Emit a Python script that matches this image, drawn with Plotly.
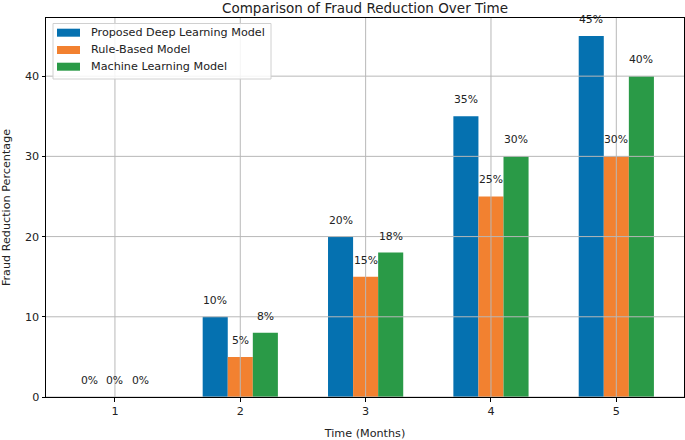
import plotly.graph_objects as go

months = [1, 2, 3, 4, 5]
series_names = ["Proposed Deep Learning Model", "Rule-Based Model", "Machine Learning Model"]
deep_learning = [0, 10, 20, 35, 45]
rule_based = [0, 5, 15, 25, 30]
machine_learning = [0, 8, 18, 30, 40]
y_ticks = [0, 10, 20, 30, 40]

series_values = [deep_learning, rule_based, machine_learning]
colors = ["#0571b0", "#f28130", "#2a9a47"]
bar_w = 0.2
FONT = "DejaVu Sans"
FS = 11.2

fig = go.Figure()
annotations = []
for i, (name, vals, col) in enumerate(zip(series_names, series_values, colors)):
    off = (i - 1) * bar_w
    fig.add_trace(go.Bar(
        x=months, y=vals, name=name, width=bar_w, offset=off - bar_w / 2,
        marker=dict(color=col, line=dict(width=0)), showlegend=False,
    ))
    for m, v in zip(months, vals):
        annotations.append(dict(
            x=m + off, y=v + 1, xref="x", yref="y", text=f"{v}%", showarrow=False,
            xanchor="center", yanchor="bottom", font=dict(family=FONT, size=10.8, color="#222"),
        ))

# pixel geometry of plot area
L, R, T, B = 46, 684, 18, 397
W, H = R - L, B - T
def px(x):
    return (x - L) / W
def py(y):
    return (B - y) / H

shapes = []
# grid lines above bars (matplotlib style)
for m in months:
    shapes.append(dict(type="line", xref="x", yref="paper", x0=m, x1=m, y0=0, y1=1,
                       line=dict(color="#b8b8b8", width=1), layer="above"))
for t in y_ticks:
    shapes.append(dict(type="line", xref="paper", yref="y", x0=0, x1=1, y0=t, y1=t,
                       line=dict(color="#b8b8b8", width=1), layer="above"))

# manual legend
shapes.append(dict(type="rect", xref="paper", yref="paper", x0=px(53), x1=px(271), y0=py(79), y1=py(23.5),
                   line=dict(color="#d0d0d0", width=1), fillcolor="rgba(255,255,255,0.85)", layer="above"))
rows = [32.7, 50, 66.7]
for name, col, yc in zip(series_names, colors, rows):
    shapes.append(dict(type="rect", xref="paper", yref="paper", x0=px(57), x1=px(80), y0=py(yc + 4), y1=py(yc - 4),
                       line=dict(width=0), fillcolor=col, layer="above"))
    annotations.append(dict(x=px(89), y=py(yc), xref="paper", yref="paper", text=name, showarrow=False,
                            xanchor="left", yanchor="middle", font=dict(family=FONT, size=FS, color="#222")))

fig.update_layout(
    width=685, height=440,
    margin=dict(l=L, r=685 - R, t=T, b=440 - B),
    paper_bgcolor="white", plot_bgcolor="white",
    barmode="overlay",
    font=dict(family=FONT, size=FS, color="#222"),
    title=dict(text="Comparison of Fraud Reduction Over Time", x=(L + R) / 2 / 685, xanchor="center",
               y=1 - 8 / 440, yanchor="middle", yref="container", font=dict(family=FONT, size=13.5, color="#222")),
    xaxis=dict(range=[0.45, 5.54], tickvals=months, ticktext=[str(m) for m in months], showgrid=False,
               zeroline=False, showline=True, mirror=True, linecolor="black", linewidth=1,
               ticks="outside", ticklen=3.5, tickcolor="black", tickfont=dict(size=FS),
               title=dict(text="Time (Months)", font=dict(size=FS), standoff=13)),
    yaxis=dict(range=[0, 47.25], tickvals=y_ticks, showgrid=False, zeroline=False, showline=True, mirror=True,
               linecolor="black", linewidth=1, ticks="outside", ticklen=3.5, tickcolor="black",
               tickfont=dict(size=FS),
               title=dict(text="Fraud Reduction Percentage", font=dict(size=FS), standoff=12)),
    shapes=shapes, annotations=annotations,
)

fig.write_html("out.html")
